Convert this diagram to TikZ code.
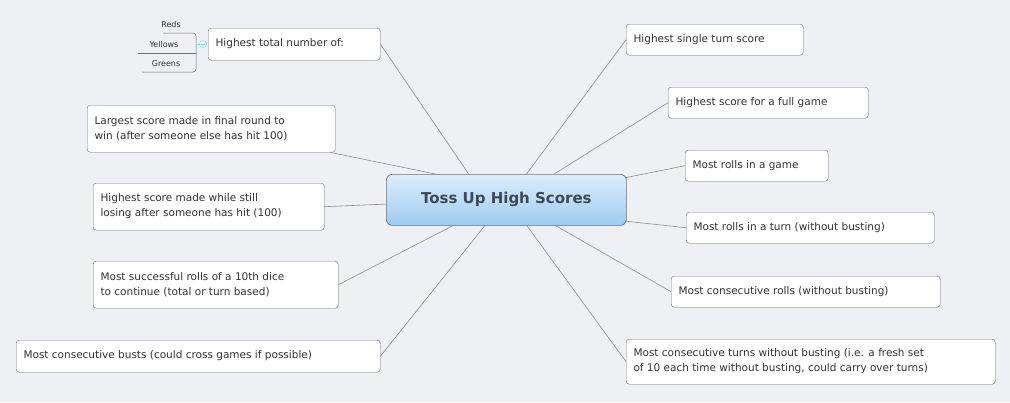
\documentclass[tikz,border=0pt]{standalone}
\usepackage{fontspec}
\setmainfont{DejaVu Sans}
\usetikzlibrary{backgrounds,calc}
\definecolor{bg}{HTML}{EEF0F4}
\definecolor{bd}{HTML}{707070}
\definecolor{tx}{HTML}{333333}
\definecolor{ctop}{HTML}{DCEEFC}
\definecolor{cbot}{HTML}{9ECBF2}
\definecolor{ctx}{HTML}{3A4A58}
\begin{document}
\begin{tikzpicture}[x=1pt,y=-1pt,
  box/.style={draw=bd,fill=white,rounded corners=3pt,anchor=north west,inner sep=0pt},
  conn/.style={draw=bd!80,line width=0.6pt},
  sub/.style={font=\fontsize{8}{10}\selectfont,text=tx}]
\begin{scope}[on background layer]
\fill[bg] (0,0) rectangle (1010,402);
\end{scope}
\useasboundingbox (0,0) rectangle (1010,402);
\newcommand\bx[6]{\node[box,minimum width=#4-#2,minimum height=#5-#3] (#1) at (#2,#3) {};
  \node[anchor=west,font=\fontsize{10.5}{15}\selectfont,text=tx,align=left] at (#2+4,{(#3+#5)/2}) {#6};}
\node[draw=bd,rounded corners=6pt,top color=ctop,bottom color=cbot,minimum width=240,minimum height=51,anchor=north west,inner sep=0pt,line width=0.7pt] (c) at (386,174) {};
\node[font=\fontsize{15}{17}\bfseries\selectfont,text=ctx] at (c.center) {Toss Up High Scores};
\bx{t1}{208}{28}{380}{60}{Highest total number of:}
\bx{l1}{87}{105}{335}{152}{Largest score made in final round to\\win (after someone else has hit 100)}
\bx{l2}{93}{183}{324}{230}{Highest score made while still\\losing after someone has hit (100)}
\bx{l3}{93}{261}{338}{308}{Most successful rolls of a 10th dice\\to continue (total or turn based)}
\bx{l4}{16}{340}{380}{372}{Most consecutive busts (could cross games if possible)}
\bx{r1}{626}{24}{803}{55}{Highest single turn score}
\bx{r2}{668}{87}{868}{118}{Highest score for a full game}
\bx{r3}{685}{150}{828}{181}{Most rolls in a game}
\bx{r4}{686}{212}{934}{243}{Most rolls in a turn (without busting)}
\bx{r5}{671}{276}{940}{307}{Most consecutive rolls (without busting)}
\bx{r6}{626}{339}{995}{384}{Most consecutive turns without busting (i.e. a fresh set\\of 10 each time without busting, could carry over turns)}
\begin{scope}[on background layer]
\coordinate (a1) at (470,176); \coordinate (a2) at (445,176);
\coordinate (a3) at (388,204); \coordinate (a4) at (458,223);
\coordinate (a5) at (487,223); \coordinate (b1) at (525,176);
\coordinate (b2) at (551,176); \coordinate (b3) at (624,178);
\coordinate (b4) at (624,221); \coordinate (b5) at (551,223);
\coordinate (b6) at (525,223);
\draw[conn] (a1) -- (t1.east); \draw[conn] (a2) -- ($(l1.south east)+(-5,0)$);
\draw[conn] (a3) -- (l2.east); \draw[conn] (a4) -- (l3.east);
\draw[conn] (a5) -- (l4.east); \draw[conn] (b1) -- (r1.west);
\draw[conn] (b2) -- (r2.west); \draw[conn] (b3) -- (r3.west);
\draw[conn] (b4) -- (r4.west); \draw[conn] (b5) -- (r5.west);
\draw[conn] (b6) -- (r6.west);
\end{scope}
% sub topics
\node[sub,anchor=south] (s1) at (171,31) {Reds};
\node[sub,anchor=south] (s2) at (164,51) {Yellows};
\node[sub,anchor=south] (s3) at (166,70) {Greens};
\coordinate (k1) at (163,33); \coordinate (k2) at (138,53); \coordinate (k3) at (142,72);
\draw[bd,line width=0.5pt] (k1) -- (193,33) arc[start angle=-90,end angle=0,radius=3] -- (196,69) arc[start angle=0,end angle=90,radius=3] -- (k3);
\draw[bd,line width=0.5pt] (k2) -- (196,53);
\draw[blue!30!cyan!50,line width=0.6pt,fill=white] (203,44) circle[radius=3.5];
\draw[blue!40!cyan!60,line width=0.5pt] (201,44) -- (205,44);
\draw[blue!30!cyan!50,line width=0.5pt] (199.5,44) -- (196,44);
\end{tikzpicture}
\end{document}
